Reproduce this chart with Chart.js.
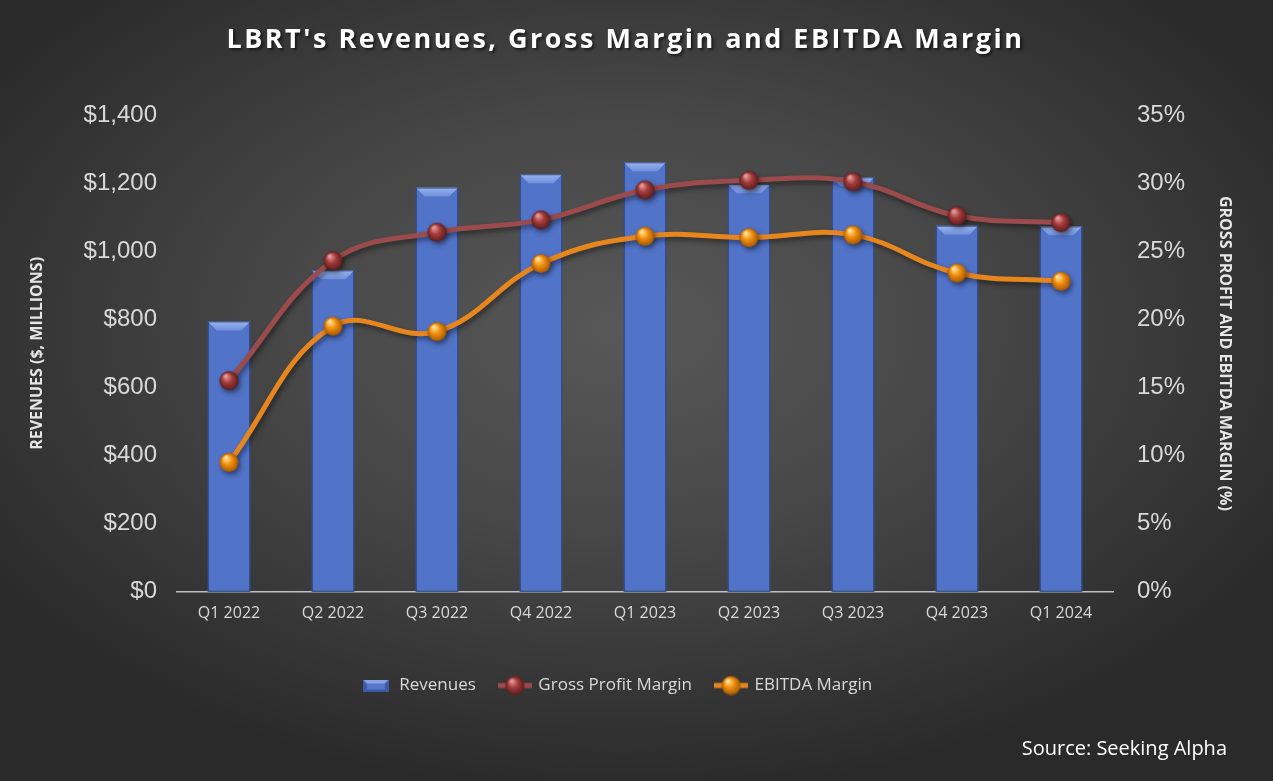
<!DOCTYPE html>
<html>
<head>
<meta charset="utf-8">
<script src="https://cdn.jsdelivr.net/npm/chart.js@4.4.1/dist/chart.umd.min.js"></script>
<style>
  html, body { margin: 0; padding: 0; }
  body {
    width: 1273px; height: 781px; overflow: hidden; position: relative;
    background: radial-gradient(ellipse 60% 60% at 49% 42%, #585858 0%, #474747 45%, #2a2a2a 100%);
  }
  #wrap { position: absolute; left: 0; top: 0; width: 1273px; height: 781px; }
  #title {
    position: absolute; left: 0; top: 19px; width: 1251px; text-align: center;
    font: bold 27px "Open Sans", sans-serif; letter-spacing: 2.5px; line-height: 38px;
    color: #ffffff; text-shadow: 2px 2px 3px rgba(0,0,0,0.6);
  }
  #source {
    position: absolute; right: 46px; top: 734px;
    font: 20px "Open Sans", sans-serif; color: #ffffff;
  }
</style>
</head>
<body>
<div id="wrap"><canvas id="chart" width="1273" height="781"></canvas></div>
<div id="title">LBRT's Revenues, Gross Margin and EBITDA Margin</div>
<div id="source">Source: Seeking Alpha</div>
<script>
const quarters = ["Q1 2022", "Q2 2022", "Q3 2022", "Q4 2022", "Q1 2023", "Q2 2023", "Q3 2023", "Q4 2023", "Q1 2024"];
const revenues = [794, 944, 1187, 1226, 1261, 1197, 1217, 1075, 1073];
const grossMargin = [15.5, 24.3, 26.4, 27.3, 29.5, 30.2, 30.1, 27.6, 27.1];
const ebitdaMargin = [9.5, 19.5, 19.1, 24.1, 26.1, 26.0, 26.2, 23.4, 22.8];

const labelColor = "#d9d9d9";

// little shaded spheres for the markers
function sphere(light, base, dark, r) {
  const c = document.createElement("canvas");
  c.width = c.height = r * 2 + 2;
  const g = c.getContext("2d");
  const grad = g.createRadialGradient(r * 0.75, r * 0.6, 1, r + 1, r + 1, r);
  grad.addColorStop(0, light);
  grad.addColorStop(0.45, base);
  grad.addColorStop(1, dark);
  g.fillStyle = grad;
  g.beginPath();
  g.arc(r + 1, r + 1, r, 0, Math.PI * 2);
  g.fill();
  return c;
}

function legendLine(color, ball) {
  const c = document.createElement("canvas");
  c.width = 34; c.height = 20;
  const g = c.getContext("2d");
  g.strokeStyle = color;
  g.lineWidth = 5;
  g.beginPath(); g.moveTo(0, 10); g.lineTo(34, 10); g.stroke();
  g.drawImage(ball, 17 - ball.width / 2, 10 - ball.height / 2);
  return c;
}

function legendBox() {
  const c = document.createElement("canvas");
  c.width = 26; c.height = 12;
  const g = c.getContext("2d");
  g.fillStyle = "#3d5aa8"; g.fillRect(0, 0, 26, 12);
  g.fillStyle = "#86a2e6";
  g.beginPath(); g.moveTo(0, 0); g.lineTo(26, 0); g.lineTo(22, 4); g.lineTo(4, 4); g.closePath(); g.fill();
  g.fillStyle = "#5677cc"; g.fillRect(4, 4, 18, 6);
  return c;
}

const redBall = sphere("#e59a9a", "#a63d3d", "#5e1c1c", 9.5);
const orangeBall = sphere("#ffe29a", "#f39313", "#a85800", 9.5);

const barLook = {
  id: "barLook",
  afterDatasetDraw(chart, args) {
    if (args.index !== 0) return;
    const ctx = chart.ctx;
    const meta = chart.getDatasetMeta(0);
    meta.data.forEach((bar) => {
      const w = bar.width, l = bar.x - w / 2, r = bar.x + w / 2, t = bar.y, b = bar.base;
      const bev = 9;
      ctx.save();
      const g = ctx.createLinearGradient(0, t, 0, t + bev);
      g.addColorStop(0, "#9bb4ee");
      g.addColorStop(1, "#6f8fdc");
      ctx.fillStyle = g;
      ctx.beginPath();
      ctx.moveTo(l, t); ctx.lineTo(r, t); ctx.lineTo(r - bev, t + bev); ctx.lineTo(l + bev, t + bev);
      ctx.closePath(); ctx.fill();
      ctx.strokeStyle = "rgba(20,35,80,0.7)";
      ctx.lineWidth = 1;
      ctx.strokeRect(l + 0.5, t + 0.5, w - 1, b - t - 1);
      ctx.restore();
    });
  },
};

const lineShadow = {
  id: "lineShadow",
  beforeDatasetDraw(chart, args) {
    if (args.index === 0) return;
    chart.ctx.save();
    chart.ctx.shadowColor = "rgba(0,0,0,0.45)";
    chart.ctx.shadowBlur = 5;
    chart.ctx.shadowOffsetX = 2;
    chart.ctx.shadowOffsetY = 3;
  },
  afterDatasetDraw(chart, args) {
    if (args.index === 0) return;
    chart.ctx.restore();
  },
};

function barFill(context) {
  const chart = context.chart;
  const el = context.element;
  if (!el || !chart.chartArea) return "#5173c8";
  const x0 = el.x - el.width / 2, x1 = el.x + el.width / 2;
  if (!isFinite(x0) || !isFinite(x1)) return "#5173c8";
  const g = chart.ctx.createLinearGradient(x0, 0, x1, 0);
  g.addColorStop(0, "#3f5db0");
  g.addColorStop(0.15, "#5476cb");
  g.addColorStop(0.85, "#5476cb");
  g.addColorStop(1, "#3a56a4");
  return g;
}

new Chart(document.getElementById("chart"), {
  type: "bar",
  data: {
    labels: quarters,
    datasets: [
      {
        label: "Revenues",
        data: revenues,
        backgroundColor: barFill,
        barPercentage: 0.41,
        categoryPercentage: 1,
        yAxisID: "y",
        order: 3,
      },
      {
        type: "line",
        label: "Gross Profit Margin",
        data: grossMargin,
        borderColor: "#9b4b4b",
        borderWidth: 5,
        tension: 0.4,
        pointStyle: redBall,
        yAxisID: "y1",
        order: 2,
      },
      {
        type: "line",
        label: "EBITDA Margin",
        data: ebitdaMargin,
        borderColor: "#e8861e",
        borderWidth: 5,
        tension: 0.4,
        pointStyle: orangeBall,
        yAxisID: "y1",
        order: 1,
      },
    ],
  },
  options: {
    responsive: false,
    animation: false,
    devicePixelRatio: 1,
    layout: { padding: { left: 0, right: 40, top: 115, bottom: 77 } },
    plugins: {
      tooltip: { enabled: false },
      title: { display: false },
      legend: {
        position: "bottom",
        labels: {
          color: labelColor,
          font: { family: "Open Sans", size: 17 },
          usePointStyle: true,
          pointStyleWidth: 30,
          padding: 24,
          generateLabels: () => [
            { text: "Revenues", pointStyle: legendBox(), fontColor: labelColor, lineWidth: 0, datasetIndex: 0 },
            { text: "Gross Profit Margin", pointStyle: legendLine("#9b4b4b", redBall), fontColor: labelColor, lineWidth: 0, datasetIndex: 1 },
            { text: "EBITDA Margin", pointStyle: legendLine("#e8861e", orangeBall), fontColor: labelColor, lineWidth: 0, datasetIndex: 2 },
          ],
        },
      },
    },
    scales: {
      x: {
        grid: { display: false, drawTicks: false },
        border: { color: "#bfbfbf", width: 1.5 },
        ticks: { color: labelColor, font: { family: "Open Sans", size: 16 }, padding: 12 },
        afterFit: (s) => { s.height += 18; },
      },
      y: {
        position: "left",
        min: 0,
        max: 1400,
        grid: { display: false },
        border: { display: false },
        afterFit: (s) => { s.width = 177; },
        ticks: {
          stepSize: 200,
          color: labelColor,
          padding: 12,
          font: { family: "Liberation Sans", size: 24 },
          callback: (v) => "$" + v.toLocaleString("en-US"),
        },
        title: {
          display: true,
          text: "REVENUES ($, MILLIONS)",
          color: "#e6e6e6",
          font: { family: "Open Sans", size: 16, weight: "bold", lineHeight: 1 },
          padding: { top: 29, bottom: 0 },
        },
      },
      y1: {
        position: "right",
        min: 0,
        max: 35,
        grid: { display: false },
        border: { display: false },
        afterFit: (s) => { s.width = 120; },
        ticks: {
          stepSize: 5,
          color: labelColor,
          padding: 16,
          font: { family: "Liberation Sans", size: 24 },
          callback: (v) => v + "%",
        },
        title: {
          display: true,
          text: "GROSS PROFIT AND EBITDA MARGIN (%)",
          color: "#e6e6e6",
          font: { family: "Open Sans", size: 16, weight: "bold", lineHeight: 1 },
          padding: { top: 0, bottom: 0 },
        },
      },
    },
  },
  plugins: [barLook, lineShadow],
});
</script>
</body>
</html>
